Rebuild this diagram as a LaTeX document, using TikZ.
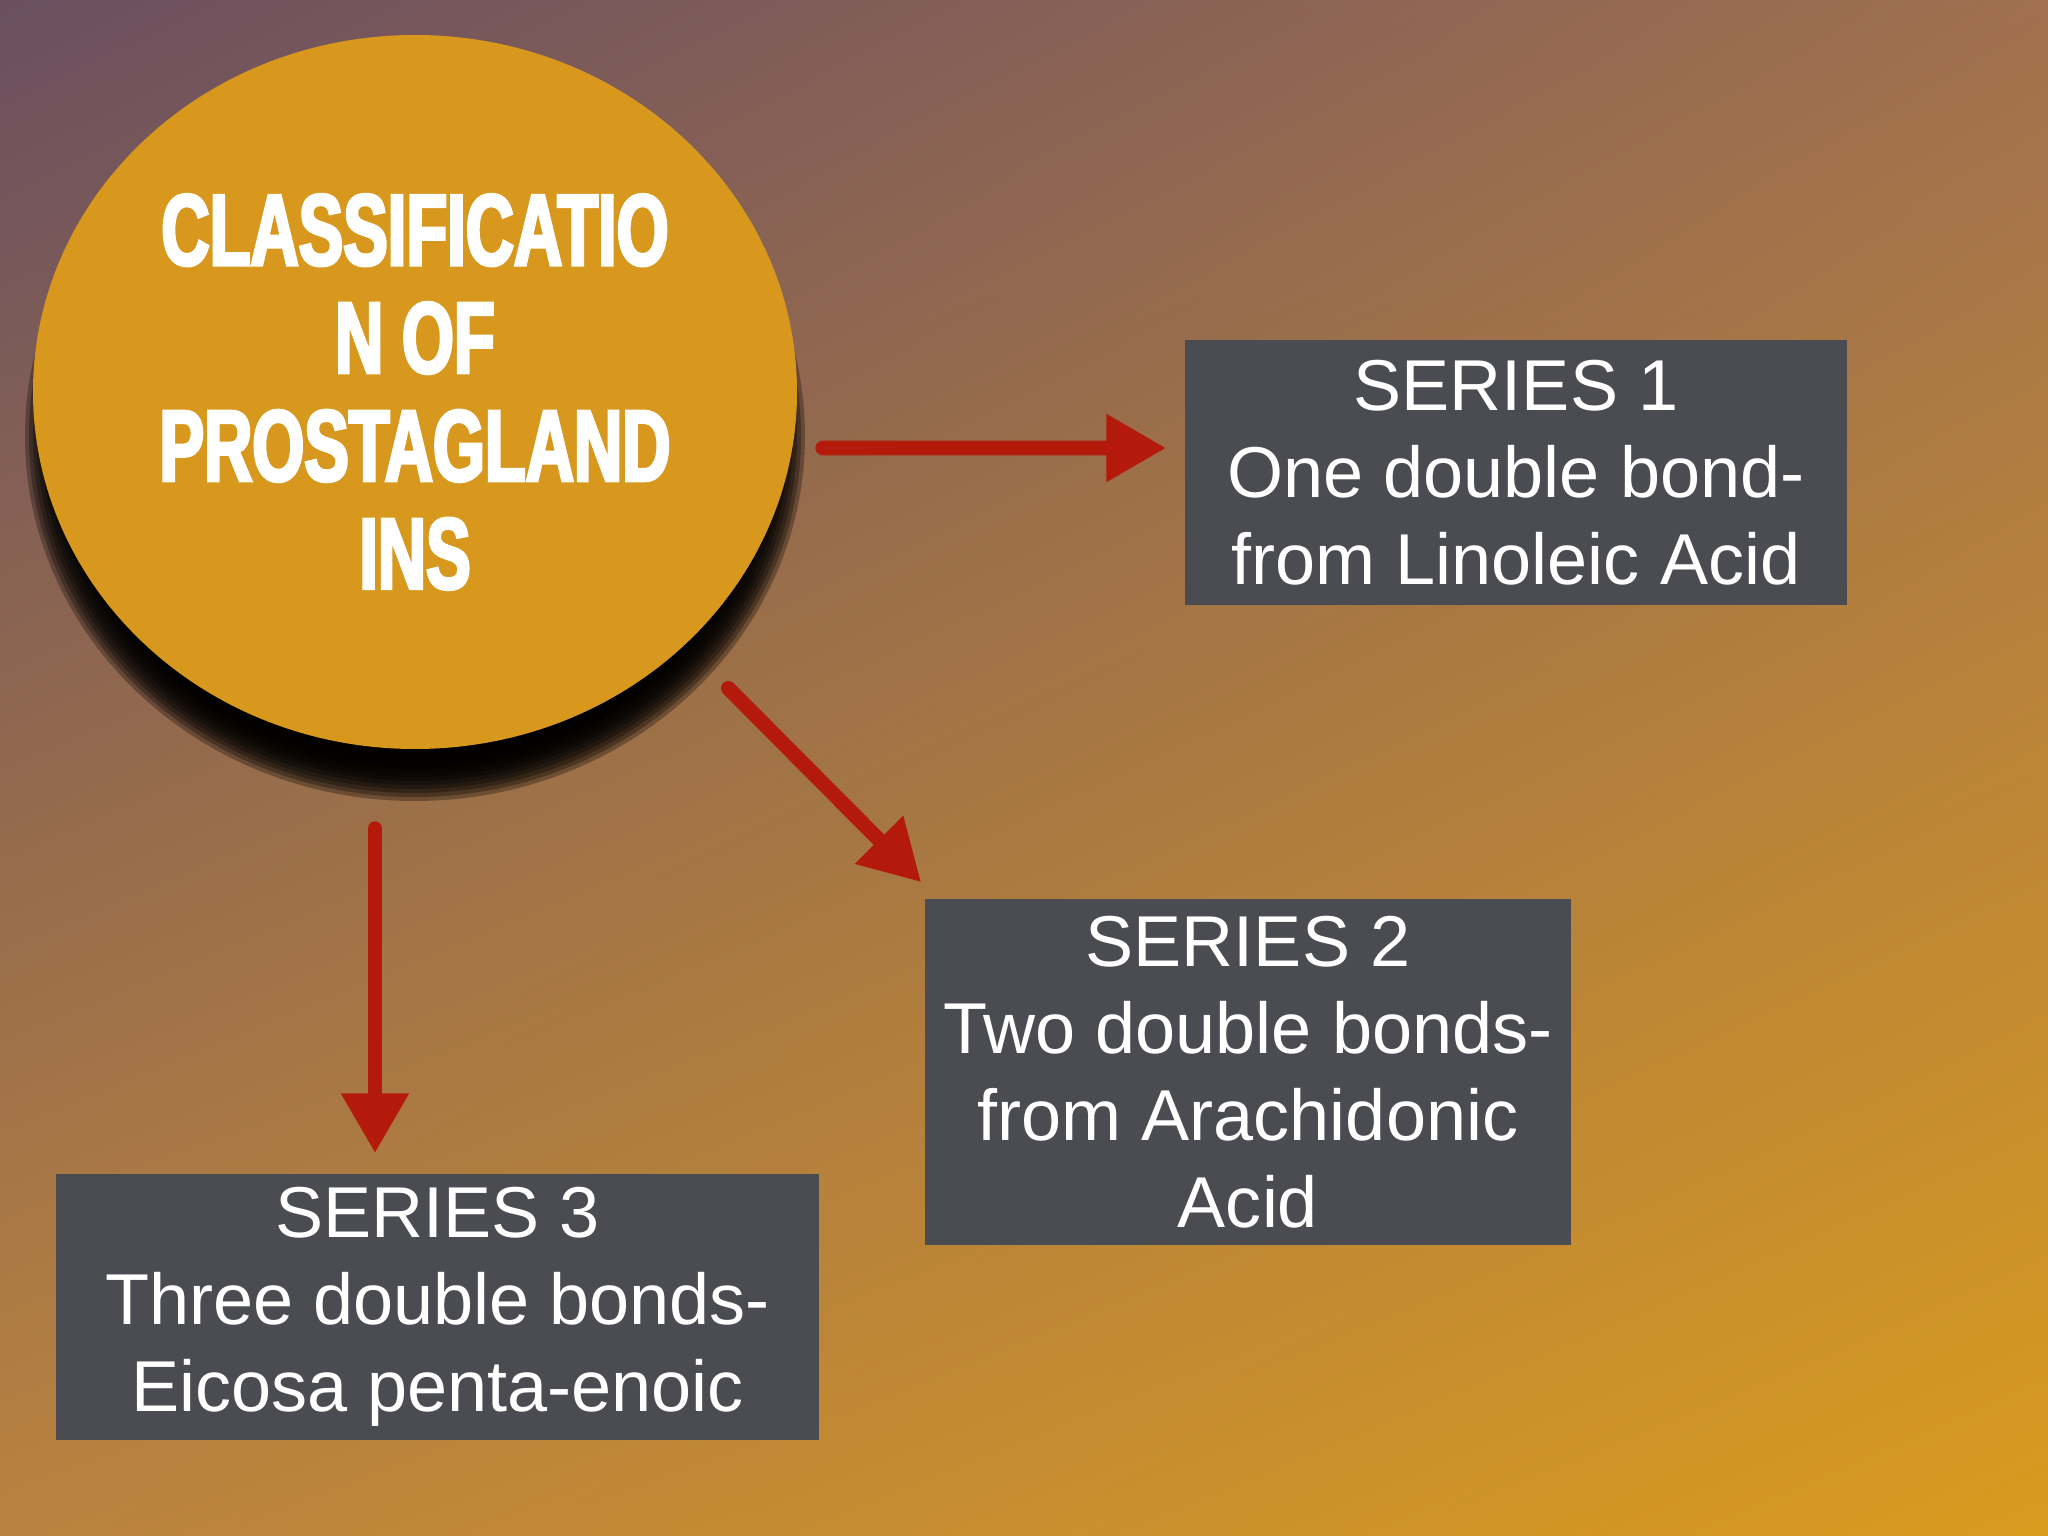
\documentclass[tikz,border=0pt]{standalone}
\usepackage{fontspec}
\setmainfont{Liberation Sans}
\newfontfamily\titlefont[FakeStretch=0.66,FakeBold=3]{Liberation Sans Bold}
\usetikzlibrary{shapes.geometric,arrows.meta,shadings}
\definecolor{bgtl}{HTML}{6A4F5F}
\definecolor{bgtr}{HTML}{A0704F}
\definecolor{bgbl}{HTML}{B9823F}
\definecolor{bgbr}{HTML}{D99B1E}
\definecolor{circgold}{HTML}{D8981E}
\definecolor{boxgray}{HTML}{4B4C52}
\definecolor{arrowred}{HTML}{B41A0C}
\begin{document}
\begin{tikzpicture}[
  seriesbox/.style={fill=boxgray, text=white, align=center, inner sep=0pt,
    font=\fontsize{20.5}{24.7}\selectfont},
  redarrow/.style={draw=arrowred, line width=4.2pt, line cap=round,
    -{Triangle[length=0.6cm,width=0.64cm]}}]
\useasboundingbox (0,0) rectangle (20.48,-15.36);
\shade[upper left=bgtl, upper right=bgtr, lower left=bgbl, lower right=bgbr] (0,0) rectangle (20.48,-15.36);
% soft shadow under the title disc
\foreach \i in {0,...,9}
  \fill[black, opacity=0.3] (4.15,-4.36) ellipse ({3.82+0.08-0.04*\i} and {3.57+0.08-0.04*\i});
\node[ellipse, fill=circgold, minimum width=7.64cm, minimum height=7.14cm, inner sep=0pt,
  text=white, align=center, font=\titlefont\fontsize{28.8}{30.7}\selectfont]
  (title) at (4.15,-3.92) {CLASSIFICATIO\\N OF\\PROSTAGLAND\\INS};
% the three series
\node[seriesbox, minimum width=6.62cm, minimum height=2.65cm] (ser1) at (15.16,-4.73)
  {SERIES 1\\One double bond-\\from Linoleic Acid};
\node[seriesbox, minimum width=6.46cm, minimum height=3.46cm] (ser2) at (12.48,-10.72)
  {SERIES 2\\Two double bonds-\\from Arachidonic\\Acid};
\node[seriesbox, minimum width=7.63cm, minimum height=2.66cm] (ser3) at (4.375,-13.07)
  {SERIES 3\\Three double bonds-\\Eicosa penta-enoic};
% arrows
\draw[redarrow] ([shift={(0.25,-0.56)}]title.east) -- ([shift={(-0.18,0.25)}]ser1.west);
\draw[redarrow] ([shift={(0.52,-0.35)}]title.-45) -- ([shift={(-0.03,0.16)}]ser2.north west);
\draw[redarrow] ([shift={(-0.40,-0.79)}]title.south) -- ([shift={(-0.625,0.20)}]ser3.north);
\end{tikzpicture}
\end{document}
